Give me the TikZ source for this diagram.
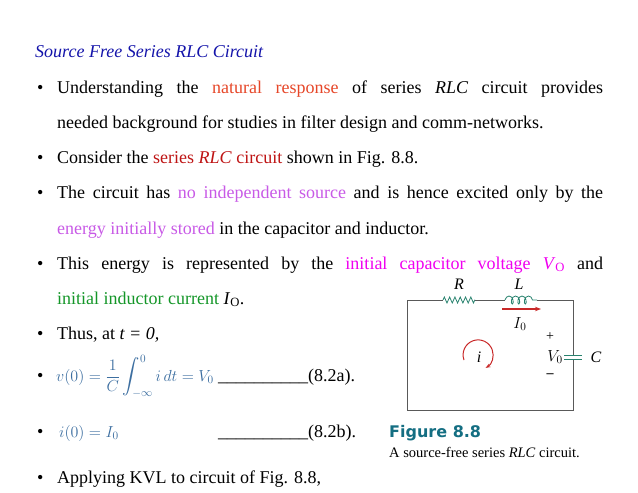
\RequirePackage{fix-cm}
\documentclass[tikz,border=0pt]{standalone}
\usepackage{amsmath}
\usepackage{fontspec}
\setmainfont{Liberation Serif}
\newfontfamily\figfont{DejaVu Sans}
\usetikzlibrary{decorations.pathmorphing,arrows.meta}
\definecolor{ttl}{RGB}{20,20,170}
\definecolor{nat}{RGB}{230,70,40}
\definecolor{ser}{RGB}{190,20,20}
\definecolor{pur}{RGB}{200,90,230}
\definecolor{mag}{RGB}{240,0,240}
\definecolor{grn}{RGB}{20,150,40}
\definecolor{eqc}{RGB}{60,110,160}
\definecolor{fig}{RGB}{20,110,130}
\definecolor{cmp}{RGB}{40,130,110}
\definecolor{arr}{RGB}{200,40,40}
\begin{document}
\begin{tikzpicture}[x=1pt,y=-1pt,
  txt/.style={anchor=base west,inner sep=0pt,font=\fontsize{18}{20}\selectfont},
  bul/.style={anchor=base west,inner sep=0pt,font=\fontsize{18}{20}\selectfont},
  lbl/.style={inner sep=0pt,font=\fontsize{16}{18}\selectfont\itshape}]
\useasboundingbox (0,0) rectangle (638,493);
\node[txt,text=ttl,font=\fontsize{18}{20}\selectfont\itshape] (t0) at (35,57) {Source Free Series RLC Circuit};
\node[bul] (b1) at (37,93) {•};
\node[txt] (l1) at (57,93) {\makebox[546pt][s]{Understanding the \textcolor{nat}{natural response} of series \textit{RLC} circuit provides}};
\node[txt] (l2) at (57,128) {needed background for studies in filter design and comm-networks.};
\node[bul] (b2) at (37,163) {•};
\node[txt] (l3) at (57,163) {Consider the \textcolor{ser}{series \textit{RLC} circuit} shown in Fig. 8.8.};
\node[bul] (b3) at (37,198) {•};
\node[txt] (l4) at (57,198) {\makebox[546pt][s]{The circuit has \textcolor{pur}{no independent source} and is hence excited only by the}};
\node[txt] (l5) at (57,234) {\textcolor{pur}{energy initially stored} in the capacitor and inductor.};
\node[bul] (b4) at (37,269) {•};
\node[txt] (l6) at (57,269) {\makebox[546pt][s]{This energy is represented by the \textcolor{mag}{initial capacitor voltage \textit{V}\textsubscript{O}} and}};
\node[txt] (l7) at (57,304) {\textcolor{grn}{initial inductor current} \textit{I}\textsubscript{O}.};
\node[bul] (b5) at (37,339) {•};
\node[txt] (l8) at (57,339) {Thus, at \textit{t = 0,}};
\node[bul] (b6) at (37,381) {•};
\node[txt,text=eqc,font=\fontsize{16}{18}\selectfont] (e1) at (56,381) {$\displaystyle v(0)=\frac{1}{C}\int_{-\infty}^{0} i\,dt = V_0$};
\node[txt] (e1b) at (218,381) {\_\_\_\_\_\_\_\_\_\_(8.2a).};
\node[bul] (b7) at (37,437) {•};
\node[txt,text=eqc,font=\fontsize{16}{18}\selectfont] (e2) at (59,437) {$i(0) = I_0$};
\node[txt] (e2b) at (218,437) {\_\_\_\_\_\_\_\_\_\_(8.2b).};
\node[bul] (b8) at (37,483) {•};
\node[txt] (l9) at (57,483) {Applying KVL to circuit of Fig. 8.8,};
% circuit
\coordinate (tl) at (407,300); \coordinate (tr) at (573,300);
\coordinate (bl) at (407,410); \coordinate (br) at (573,410);
\coordinate (r1) at (443,300); \coordinate (r2) at (475,300);
\coordinate (i1) at (505,300); \coordinate (i2) at (537,300);
\coordinate (c1) at (573,355); \coordinate (c2) at (573,359);
\draw[gray!70!black,line width=0.8pt] (r2) -- (i1) (i2) -- (tr) -- (c1) (c2) -- (br) -- (bl) -- (tl) -- (r1);
\draw[cmp,line width=0.8pt,decorate,decoration={zigzag,segment length=5.3pt,amplitude=3pt}] (r1) -- (r2);
\draw[cmp,line width=0.8pt,decorate,decoration={coil,aspect=0.6,segment length=6.5pt,amplitude=4pt}] (i1) -- (i2);
\draw[cmp,line width=0.9pt] (564,355) -- (582,355) (564,359) -- (582,359);
\node[lbl] (R) at (459,284) {R};
\node[lbl] (L) at (519,284) {L};
\draw[arr,line width=1.3pt,-{Stealth[length=6pt]}] (502,309) -- (541,309);
\node[lbl] (I0) at (520,324) {$I_0$};
\node[lbl,font=\fontsize{14}{16}\selectfont] (plus) at (550,337) {+};
\node[lbl] (V0) at (555,357) {$V_0$};
\node[lbl] (C) at (596,357) {C};
\node[lbl,font=\fontsize{14}{16}\selectfont\bfseries] (minus) at (550,376) {–};
\draw[arr,line width=1pt,-{Stealth[length=5pt]}] (464,360) arc[start angle=160,end angle=420,radius=15];
\node[lbl] (i) at (479,357) {i};
\node[anchor=base west,inner sep=0pt,text=fig,font=\figfont\bfseries\fontsize{16}{18}\selectfont] (F) at (389,437) {Figure 8.8};
\node[anchor=base west,inner sep=0pt,font=\fontsize{14.5}{16}\selectfont] (cap) at (389,457) {A source-free series \textit{RLC} circuit.};
\end{tikzpicture}
\end{document}
